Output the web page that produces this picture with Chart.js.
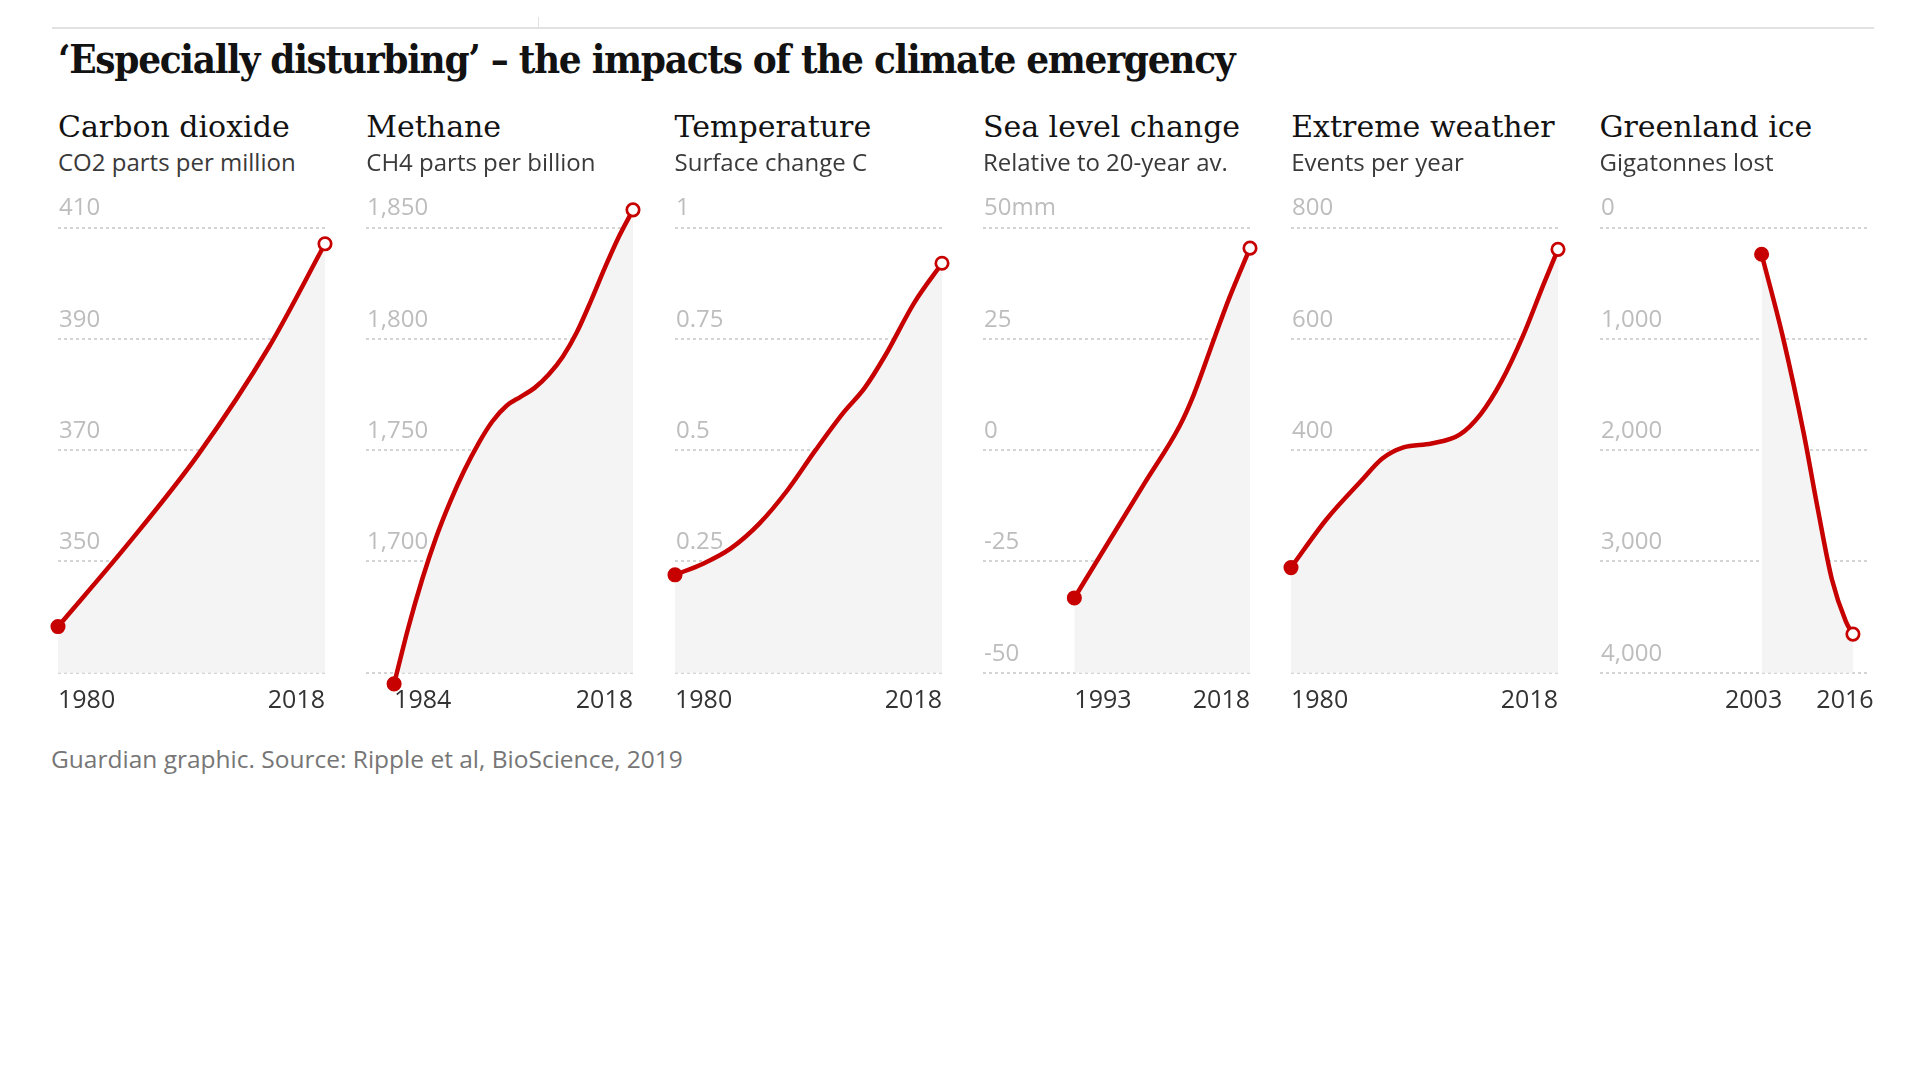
<!DOCTYPE html>
<html>
<head>
<meta charset="utf-8">
<script src="https://cdn.jsdelivr.net/npm/chart.js@4.4.0/dist/chart.umd.min.js"></script>
<style>
  body { margin: 0; background: #fff; width: 1920px; height: 1080px; position: relative; overflow: hidden; }
  .rule { position: absolute; left: 52px; top: 27px; width: 1822px; height: 2px; background: #e2e2e2; }
  .mark { position: absolute; left: 538px; top: 17px; width: 1px; height: 10px; background: #e2e2e2; }
  h1 { position: absolute; left: 58px; top: 39px; margin: 0; white-space: nowrap; color: #121212; letter-spacing: -1.3px;
       font: bold 40px/40px 'DejaVu Serif Condensed', 'DejaVu Serif', serif; font-stretch: condensed; }
  .head { position: absolute; top: 112px; white-space: nowrap; color: #121212; font: 30px/30px 'DejaVu Serif', serif; }
  .sub { position: absolute; top: 150px; white-space: nowrap; color: #3a3a3a; font: 24px/24px 'Open Sans', sans-serif; }
  .panel { position: absolute; top: 190px; width: 309px; height: 560px; }
  .foot { position: absolute; left: 51px; top: 747px; white-space: nowrap; color: #767676; font: 24.5px/24px 'Open Sans', sans-serif; }
</style>
</head>
<body>
<div class="rule"></div>
<div class="mark"></div>
<h1>‘Especially disturbing’ – the impacts of the climate emergency</h1>
<div class="foot">Guardian graphic. Source: Ripple et al, BioScience, 2019</div>
<script>
const headings = ['Carbon dioxide', 'Methane', 'Temperature', 'Sea level change', 'Extreme weather', 'Greenland ice'];
const subheadings = ['CO2 parts per million', 'CH4 parts per billion', 'Surface change C', 'Relative to 20-year av.', 'Events per year', 'Gigatonnes lost'];

// values
const co2Years = [1980, 1990, 2000, 2010, 2018];
const co2Values = [338.3, 353.2, 369.3, 388.5, 407.1];
const co2Ticks = [330, 350, 370, 390, 410];
const co2Labels = ['330', '350', '370', '390', '410'];

const ch4Years = [1984, 1986, 1988, 1990, 1992, 1994, 1996, 1998, 2000, 2002, 2004, 2006, 2008, 2010, 2012, 2014, 2016, 2018];
const ch4Values = [1645, 1670, 1692, 1711, 1727, 1741, 1753, 1763, 1770, 1774, 1778, 1784, 1792, 1803, 1817, 1832, 1846, 1858];
const ch4Ticks = [1650, 1700, 1750, 1800, 1850];
const ch4Labels = ['', '1,700', '1,750', '1,800', '1,850'];

const tempYears = [1980, 1984, 1988, 1992, 1996, 2000, 2004, 2007, 2010, 2014, 2018];
const tempValues = [0.22, 0.245, 0.28, 0.335, 0.41, 0.5, 0.585, 0.64, 0.715, 0.83, 0.92];
const tempTicks = [0, 0.25, 0.5, 0.75, 1];
const tempLabels = ['0', '0.25', '0.5', '0.75', '1'];

const seaYears = [1993, 1998, 2003, 2008, 2010, 2013, 2015, 2018];
const seaValues = [-33.2, -20.3, -7.4, 5.5, 12.5, 25.5, 34, 45.4];
const seaTicks = [-50, -25, 0, 25, 50];
const seaLabels = ['-50', '-25', '0', '25', '50mm'];

const wxYears = [1980, 1985, 1990, 1993, 1996, 2000, 2004, 2007, 2010, 2013, 2016, 2018];
const wxValues = [189, 275, 345, 385, 405, 412, 428, 465, 525, 605, 700, 761];
const wxTicks = [0, 200, 400, 600, 800];
const wxLabels = ['0', '', '400', '600', '800'];

const iceYears = [2003, 2006, 2009, 2011, 2013, 2015, 2016];
const iceValues = [239, 975, 1850, 2530, 3160, 3540, 3653];
const iceTicks = [0, 1000, 2000, 3000, 4000];
const iceLabels = ['0', '1,000', '2,000', '3,000', '4,000'];

const RED = '#c70000';

function makeChart(canvas, years, values, yTicks, yLabels, reverse, xAlign, xShift) {
  const n = years.length;
  const lo = yTicks[0], hi = yTicks[yTicks.length - 1];
  // a little room past the outer gridlines so the end markers still get drawn
  const extTop = (hi - lo) * 0.05, extBottom = (hi - lo) * 0.015;
  return new Chart(canvas, {
    type: 'line',
    data: {
      datasets: [{
        data: years.map((yr, i) => ({x: yr, y: values[i]})),
        borderColor: RED,
        borderWidth: 4.5,
        cubicInterpolationMode: 'monotone',
        fill: {value: reverse ? hi : lo},
        backgroundColor: '#f4f4f4',
        pointRadius: ctx => (ctx.dataIndex === 0 || ctx.dataIndex === n - 1) ? 6.2 : 0,
        pointBackgroundColor: ctx => ctx.dataIndex === 0 ? RED : '#fff',
        pointBorderColor: RED,
        pointBorderWidth: 2.7,
        clip: false
      }]
    },
    options: {
      responsive: false,
      animation: false,
      events: [],
      layout: {padding: {left: 12, right: 30, top: 14.4, bottom: 20.6}},
      plugins: {legend: {display: false}, tooltip: {enabled: false}},
      scales: {
        x: {
          type: 'linear', min: 1980, max: 2018,
          grid: {display: false, drawTicks: false},
          border: {display: false},
          afterBuildTicks: axis => { axis.ticks = [{value: years[0]}, {value: years[n - 1]}]; },
          // keep every plot the same width, labels may hang over the edge
          afterFit: axis => { axis.height = 50; axis.paddingLeft = 0; axis.paddingRight = 0; },
          ticks: {
            autoSkip: false, maxRotation: 0, align: xAlign, padding: 6, labelOffset: xShift,
            color: '#333', font: {family: 'Open Sans', size: 25},
            callback: v => String(v)
          }
        },
        y: {
          min: reverse ? lo - extTop : lo - extBottom,
          max: reverse ? hi + extBottom : hi + extTop,
          reverse: reverse,
          afterBuildTicks: axis => { axis.ticks = yTicks.map(v => ({value: v})); },
          afterFit: axis => { axis.width = 0; },
          grid: {color: '#d4d4d4', lineWidth: 2, drawTicks: false},
          border: {display: false, dash: [3, 3]},
          ticks: {
            mirror: true, padding: 1, labelOffset: -19, autoSkip: false,
            color: '#bdbdbd', font: {family: 'Open Sans', size: 24},
            callback: (v, i) => yLabels[i]
          }
        }
      }
    }
  });
}

const panels = [
  [co2Years, co2Values, co2Ticks, co2Labels, false, 'inner', 0],
  [ch4Years, ch4Values, ch4Ticks, ch4Labels, false, 'inner', 0],
  [tempYears, tempValues, tempTicks, tempLabels, false, 'inner', 0],
  [seaYears, seaValues, seaTicks, seaLabels, false, 'inner', 0],
  [wxYears, wxValues, wxTicks, wxLabels, false, 'inner', 0],
  [iceYears, iceValues, iceTicks, iceLabels, true, 'center', -8]
];

panels.forEach((p, i) => {
  const left = 58 + i * 308.3;

  const h = document.createElement('div');
  h.className = 'head';
  h.style.left = left + 'px';
  h.innerText = headings[i];
  document.body.appendChild(h);

  const s = document.createElement('div');
  s.className = 'sub';
  s.style.left = left + 'px';
  s.innerText = subheadings[i];
  document.body.appendChild(s);

  const box = document.createElement('div');
  box.className = 'panel';
  box.style.left = (left - 12) + 'px';
  const c = document.createElement('canvas');
  c.width = 309;
  c.height = 560;
  box.appendChild(c);
  document.body.appendChild(box);

  makeChart(c, ...p);
});
</script>
</body>
</html>
